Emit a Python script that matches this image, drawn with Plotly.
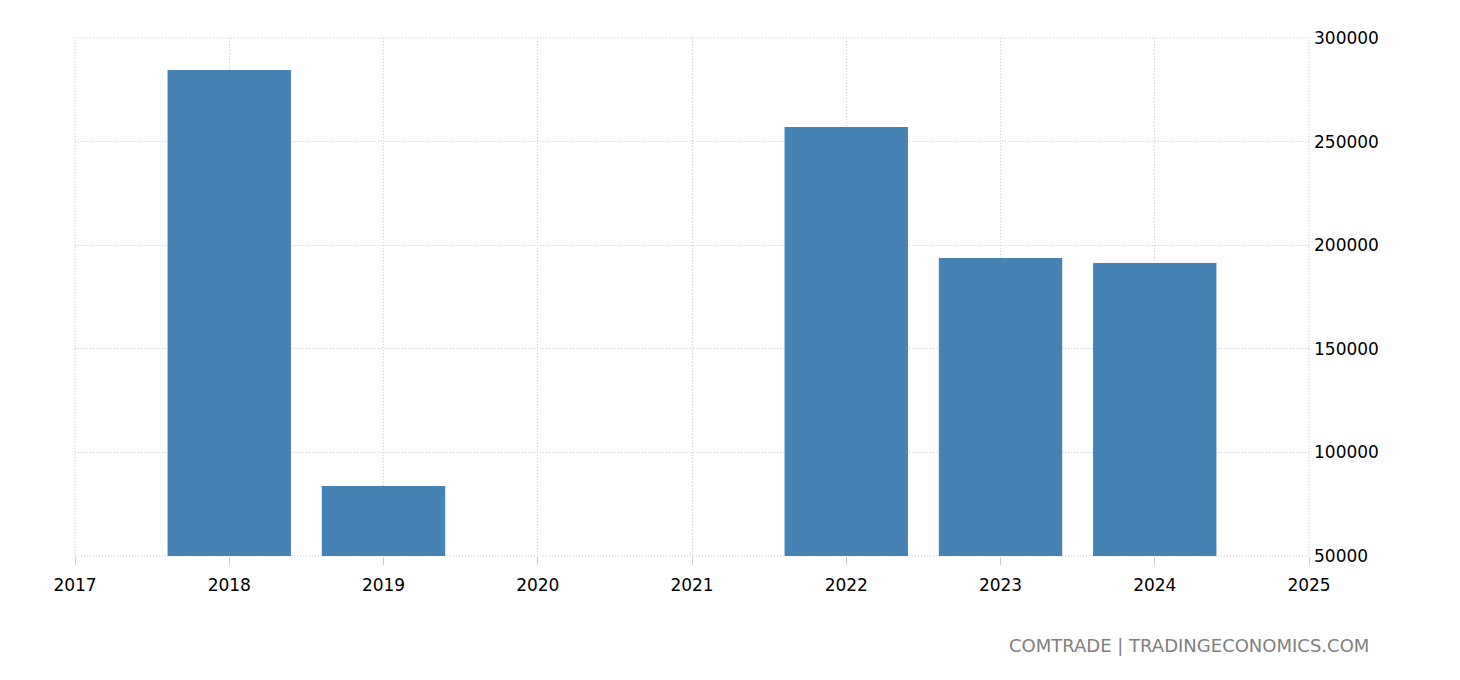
import plotly.graph_objects as go

years = [2018, 2019, 2022, 2023, 2024]
values = [284500, 83800, 257000, 193800, 191400]

x_ticks = list(range(2017, 2026))
y_ticks = [50000, 100000, 150000, 200000, 250000, 300000]

grid = '#cccccc'

fig = go.Figure()
fig.add_trace(go.Bar(x=years, y=values, width=0.8,
                     marker=dict(color='#4682B4', line=dict(width=0))))

fig.update_layout(
    width=1460, height=680,
    margin=dict(l=75, r=151, t=38, b=124),
    paper_bgcolor='white', plot_bgcolor='white',
    showlegend=False,
    font=dict(family='DejaVu Sans', size=17, color='black'),
)
fig.update_xaxes(
    range=[2017, 2025], tickvals=x_ticks, ticktext=[str(t) for t in x_ticks],
    showgrid=True, gridcolor=grid, griddash='1px,2px', gridwidth=1,
    ticks='outside', ticklen=8, tickcolor=grid, ticklabelstandoff=6,
    showline=False, zeroline=False,
)
fig.update_yaxes(
    range=[50000, 300000], tickvals=y_ticks,
    ticktext=[str(t) for t in y_ticks], side='right',
    showgrid=True, gridcolor=grid, griddash='1px,2px', gridwidth=1,
    ticks='', showline=False, zeroline=False, ticklabelstandoff=4,
)
# dotted frame round the plot area (edge gridlines are not drawn by plotly)
fig.add_shape(type='rect', xref='paper', yref='paper', x0=0, y0=0, x1=1, y1=1,
              line=dict(color=grid, width=1, dash='1px,2px'), layer='below')
fig.add_annotation(text='COMTRADE | TRADINGECONOMICS.COM', xref='paper', yref='paper',
                   x=1.0502, y=-0.172, xanchor='right', yanchor='middle', showarrow=False,
                   font=dict(family='DejaVu Sans', size=18, color='#808080'))

fig.write_html("out.html", config={'displayModeBar': False},
               post_script="document.body.style.margin='0';")
